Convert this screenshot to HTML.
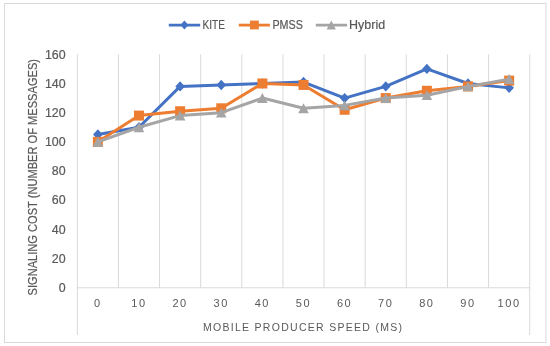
<!DOCTYPE html><html><head><meta charset="utf-8"><title>Signaling cost chart</title>
<style>html,body{margin:0;padding:0;background:#fff;}svg{display:block;}text{font-family:'Liberation Sans', Arial, sans-serif;fill:#595959;stroke:#595959;stroke-width:0.2px;}</style></head><body>
<svg width="550" height="346" viewBox="0 0 550 346">
<rect x="0" y="0" width="550" height="346" fill="#fff"/>
<rect x="4.5" y="3.5" width="541.5" height="339" fill="none" stroke="#D9D9D9" stroke-width="1"/>
<path d="M118.43 54.30V287.80M159.55 54.30V287.80M200.68 54.30V287.80M241.81 54.30V287.80M282.94 54.30V287.80M324.06 54.30V287.80M365.19 54.30V287.80M406.32 54.30V287.80M447.45 54.30V287.80M488.57 54.30V287.80" stroke="#D9D9D9" stroke-width="1" fill="none"/>
<path d="M77.4 54.30V335 M529.7 54.30V335 M77 287.80H530.2" stroke="#D9D9D9" stroke-width="1" fill="none"/>
<text x="65.6" y="292.00" font-size="12" text-anchor="end" textLength="6.9" lengthAdjust="spacingAndGlyphs">0</text>
<text x="65.6" y="262.81" font-size="12" text-anchor="end" textLength="13.8" lengthAdjust="spacingAndGlyphs">20</text>
<text x="65.6" y="233.62" font-size="12" text-anchor="end" textLength="13.8" lengthAdjust="spacingAndGlyphs">40</text>
<text x="65.6" y="204.44" font-size="12" text-anchor="end" textLength="13.8" lengthAdjust="spacingAndGlyphs">60</text>
<text x="65.6" y="175.25" font-size="12" text-anchor="end" textLength="13.8" lengthAdjust="spacingAndGlyphs">80</text>
<text x="65.6" y="146.06" font-size="12" text-anchor="end" textLength="20.7" lengthAdjust="spacingAndGlyphs">100</text>
<text x="65.6" y="116.88" font-size="12" text-anchor="end" textLength="20.7" lengthAdjust="spacingAndGlyphs">120</text>
<text x="65.6" y="87.69" font-size="12" text-anchor="end" textLength="20.7" lengthAdjust="spacingAndGlyphs">140</text>
<text x="65.6" y="58.50" font-size="12" text-anchor="end" textLength="20.7" lengthAdjust="spacingAndGlyphs">160</text>
<text x="97.86" y="307" font-size="11" text-anchor="middle" letter-spacing="1.6" style="stroke:none">0</text>
<text x="138.99" y="307" font-size="11" text-anchor="middle" letter-spacing="1.6" style="stroke:none">10</text>
<text x="180.12" y="307" font-size="11" text-anchor="middle" letter-spacing="1.6" style="stroke:none">20</text>
<text x="221.25" y="307" font-size="11" text-anchor="middle" letter-spacing="1.6" style="stroke:none">30</text>
<text x="262.37" y="307" font-size="11" text-anchor="middle" letter-spacing="1.6" style="stroke:none">40</text>
<text x="303.50" y="307" font-size="11" text-anchor="middle" letter-spacing="1.6" style="stroke:none">50</text>
<text x="344.63" y="307" font-size="11" text-anchor="middle" letter-spacing="1.6" style="stroke:none">60</text>
<text x="385.75" y="307" font-size="11" text-anchor="middle" letter-spacing="1.6" style="stroke:none">70</text>
<text x="426.88" y="307" font-size="11" text-anchor="middle" letter-spacing="1.6" style="stroke:none">80</text>
<text x="468.01" y="307" font-size="11" text-anchor="middle" letter-spacing="1.6" style="stroke:none">90</text>
<text x="509.14" y="307" font-size="11" text-anchor="middle" letter-spacing="1.6" style="stroke:none">100</text>
<text transform="translate(36.5,177.2) rotate(-90)" x="0" y="0" font-size="12" text-anchor="middle" textLength="236.5" lengthAdjust="spacingAndGlyphs">SIGNALING COST (NUMBER OF MESSAGES)</text>
<text x="302.5" y="330.5" font-size="10.5" text-anchor="middle" textLength="199" lengthAdjust="spacing" style="stroke:none">MOBILE PRODUCER SPEED (MS)</text>
<polyline points="97.86,134.57 138.99,127.27 180.12,86.41 221.25,84.95 262.37,83.49 303.50,82.03 344.63,98.08 385.75,86.41 426.88,68.89 468.01,83.49 509.14,87.87" fill="none" stroke="#4472C4" stroke-width="3" stroke-linejoin="round" stroke-linecap="round"/><path d="M97.86 129.37L102.66 134.57L97.86 139.77L93.06 134.57Z" fill="#4472C4"/><path d="M138.99 122.07L143.79 127.27L138.99 132.47L134.19 127.27Z" fill="#4472C4"/><path d="M180.12 81.21L184.92 86.41L180.12 91.61L175.32 86.41Z" fill="#4472C4"/><path d="M221.25 79.75L226.05 84.95L221.25 90.15L216.45 84.95Z" fill="#4472C4"/><path d="M262.37 78.29L267.17 83.49L262.37 88.69L257.57 83.49Z" fill="#4472C4"/><path d="M303.50 76.83L308.30 82.03L303.50 87.23L298.70 82.03Z" fill="#4472C4"/><path d="M344.63 92.88L349.43 98.08L344.63 103.28L339.83 98.08Z" fill="#4472C4"/><path d="M385.75 81.21L390.55 86.41L385.75 91.61L380.95 86.41Z" fill="#4472C4"/><path d="M426.88 63.69L431.68 68.89L426.88 74.09L422.08 68.89Z" fill="#4472C4"/><path d="M468.01 78.29L472.81 83.49L468.01 88.69L463.21 83.49Z" fill="#4472C4"/><path d="M509.14 82.67L513.94 87.87L509.14 93.07L504.34 87.87Z" fill="#4472C4"/>
<polyline points="97.86,141.86 138.99,115.59 180.12,111.22 221.25,108.30 262.37,83.49 303.50,84.95 344.63,109.76 385.75,98.08 426.88,90.78 468.01,86.41 509.14,80.57" fill="none" stroke="#ED7D31" stroke-width="3" stroke-linejoin="round" stroke-linecap="round"/><rect x="92.86" y="136.86" width="10.00" height="10.00" fill="#ED7D31"/><rect x="133.99" y="110.59" width="10.00" height="10.00" fill="#ED7D31"/><rect x="175.12" y="106.22" width="10.00" height="10.00" fill="#ED7D31"/><rect x="216.25" y="103.30" width="10.00" height="10.00" fill="#ED7D31"/><rect x="257.37" y="78.49" width="10.00" height="10.00" fill="#ED7D31"/><rect x="298.50" y="79.95" width="10.00" height="10.00" fill="#ED7D31"/><rect x="339.63" y="104.76" width="10.00" height="10.00" fill="#ED7D31"/><rect x="380.75" y="93.08" width="10.00" height="10.00" fill="#ED7D31"/><rect x="421.88" y="85.78" width="10.00" height="10.00" fill="#ED7D31"/><rect x="463.01" y="81.41" width="10.00" height="10.00" fill="#ED7D31"/><rect x="504.14" y="75.57" width="10.00" height="10.00" fill="#ED7D31"/>
<polyline points="97.86,141.86 138.99,127.27 180.12,115.59 221.25,112.68 262.37,98.08 303.50,108.30 344.63,105.38 385.75,98.08 426.88,95.16 468.01,86.41 509.14,79.11" fill="none" stroke="#A5A5A5" stroke-width="3" stroke-linejoin="round" stroke-linecap="round"/><path d="M97.86 136.86L103.16 146.76L92.56 146.76Z" fill="#A5A5A5"/><path d="M138.99 122.27L144.29 132.17L133.69 132.17Z" fill="#A5A5A5"/><path d="M180.12 110.59L185.42 120.49L174.82 120.49Z" fill="#A5A5A5"/><path d="M221.25 107.68L226.55 117.58L215.95 117.58Z" fill="#A5A5A5"/><path d="M262.37 93.08L267.67 102.98L257.07 102.98Z" fill="#A5A5A5"/><path d="M303.50 103.30L308.80 113.20L298.20 113.20Z" fill="#A5A5A5"/><path d="M344.63 100.38L349.93 110.28L339.33 110.28Z" fill="#A5A5A5"/><path d="M385.75 93.08L391.05 102.98L380.45 102.98Z" fill="#A5A5A5"/><path d="M426.88 90.16L432.18 100.06L421.58 100.06Z" fill="#A5A5A5"/><path d="M468.01 81.41L473.31 91.31L462.71 91.31Z" fill="#A5A5A5"/><path d="M509.14 74.11L514.44 84.01L503.84 84.01Z" fill="#A5A5A5"/>
<path d="M168.80 25.1H200.20" stroke="#4472C4" stroke-width="2.8"/><path d="M184.40 20.40L188.40 25.00L184.40 29.60L180.40 25.00Z" fill="#4472C4"/><text x="202.60" y="28.8" font-size="12" textLength="22.40" lengthAdjust="spacingAndGlyphs">KITE</text>
<path d="M238.80 25.1H269.90" stroke="#ED7D31" stroke-width="2.8"/><rect x="250.00" y="20.60" width="8.80" height="8.80" fill="#ED7D31"/><text x="272.40" y="28.8" font-size="12" textLength="30.40" lengthAdjust="spacingAndGlyphs">PMSS</text>
<path d="M315.80 25.1H347.10" stroke="#A5A5A5" stroke-width="2.8"/><path d="M331.30 20.60L335.90 29.60L326.70 29.60Z" fill="#A5A5A5"/><text x="349.10" y="28.8" font-size="12" textLength="36.00" lengthAdjust="spacingAndGlyphs">Hybrid</text>
</svg></body></html>
